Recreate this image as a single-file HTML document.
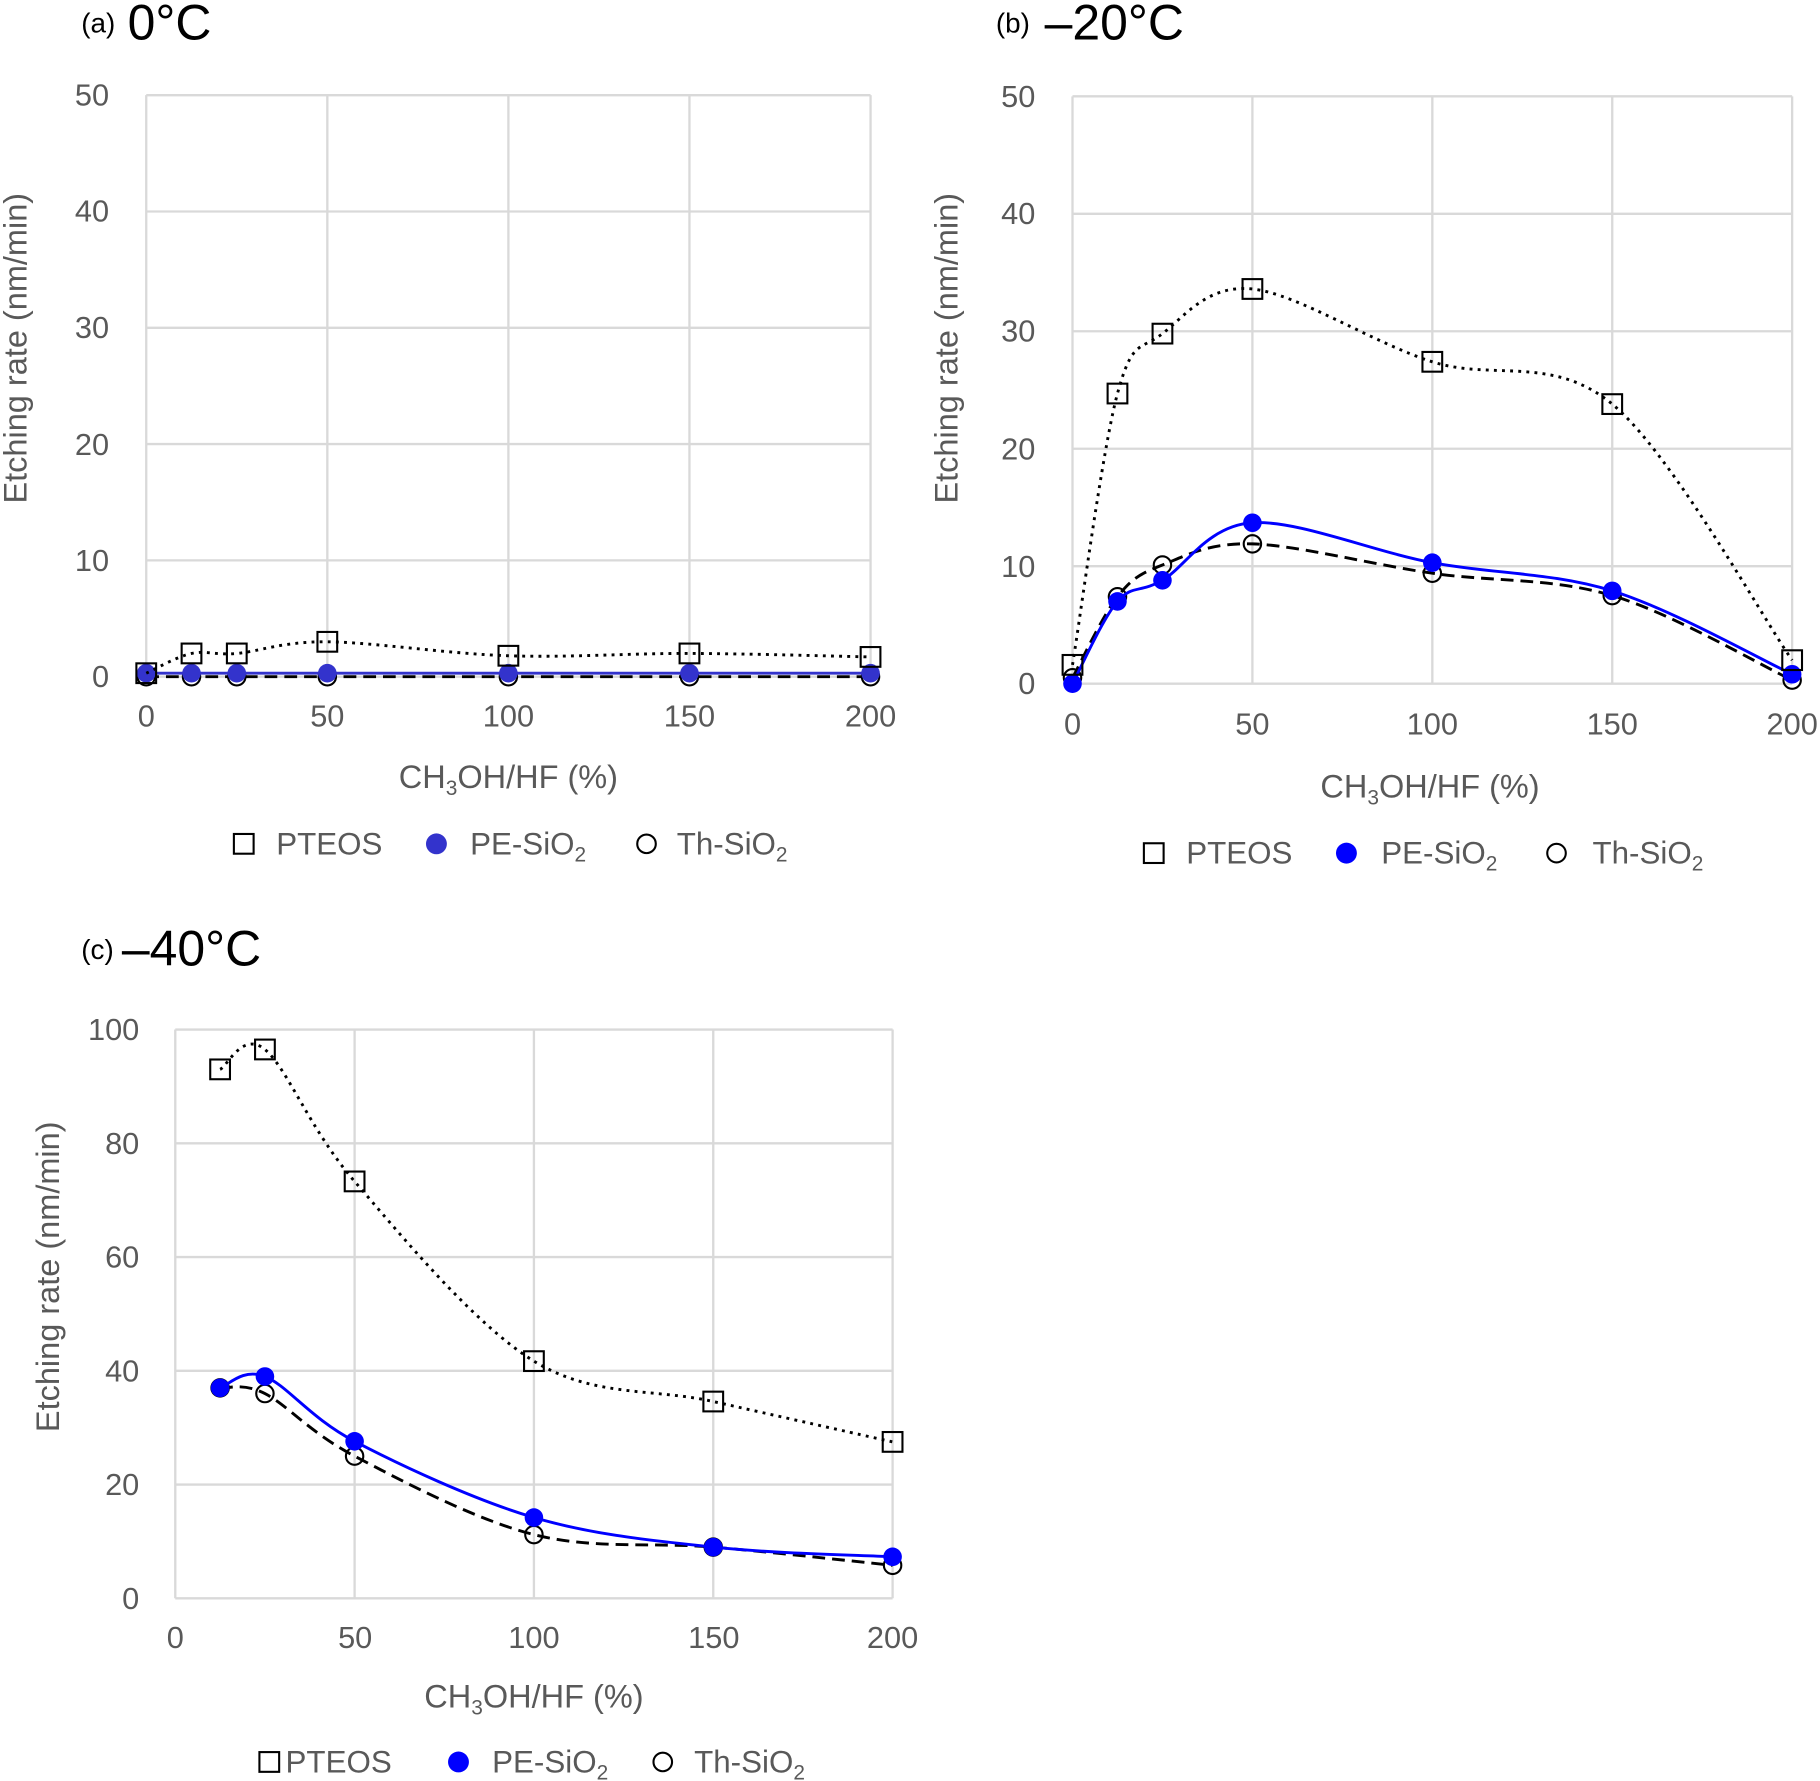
<!DOCTYPE html>
<html><head><meta charset="utf-8">
<style>
html,body{margin:0;padding:0;background:#fff;}
svg{display:block;}
text{font-family:"Liberation Sans",Arial,sans-serif;}
.tk{fill:#595959;font-size:26.5px;}
.ttl{fill:#595959;font-size:28px;}
.lg{fill:#595959;font-size:27px;}
</style></head><body>
<svg id="s" width="1820" height="1781" viewBox="0 0 1568 1534.4" preserveAspectRatio="none" xmlns="http://www.w3.org/2000/svg">
<rect width="1568" height="1535" fill="#fff"/>
<g id="grid"></g>
<g id="series"></g>
<text x="70" y="28" font-size="24" fill="#000">(a)</text>
<text x="110" y="34" font-size="43" fill="#000">0°C</text>
<g class="tk" text-anchor="end">
<text x="94" y="91">50</text><text x="94" y="191">40</text><text x="94" y="291">30</text><text x="94" y="392">20</text><text x="94" y="492">10</text><text x="94" y="592">0</text>
</g>
<g class="tk" text-anchor="middle">
<text x="126" y="626">0</text><text x="282" y="626">50</text><text x="438" y="626">100</text><text x="594" y="626">150</text><text x="750" y="626">200</text>
</g>
<text class="ttl" x="438" y="679" text-anchor="middle">CH<tspan font-size="18" dy="6">3</tspan><tspan dy="-6">OH/HF (%)</tspan></text>
<text class="ttl" transform="translate(23,300) rotate(-90)" text-anchor="middle">Etching rate (nm/min)</text>
<text class="lg" x="238" y="736">PTEOS</text>
<text class="lg" x="405" y="736" fill="#000">PE-SiO<tspan font-size="18" dy="6">2</tspan></text>
<text class="lg" x="583" y="736" fill="#000">Th-SiO<tspan font-size="18" dy="6">2</tspan></text>
<text x="858" y="28" font-size="24" fill="#000">(b)</text>
<text x="900" y="34" font-size="43" fill="#000">–20°C</text>
<g class="tk" text-anchor="end">
<text x="892" y="92">50</text><text x="892" y="193">40</text><text x="892" y="294">30</text><text x="892" y="396">20</text><text x="892" y="497">10</text><text x="892" y="598">0</text>
</g>
<g class="tk" text-anchor="middle">
<text x="924" y="633">0</text><text x="1079" y="633">50</text><text x="1234" y="633">100</text><text x="1389" y="633">150</text><text x="1544" y="633">200</text>
</g>
<text class="ttl" x="1232" y="687" text-anchor="middle">CH<tspan font-size="18" dy="6">3</tspan><tspan dy="-6">OH/HF (%)</tspan></text>
<text class="ttl" transform="translate(825,300) rotate(-90)" text-anchor="middle">Etching rate (nm/min)</text>
<text class="lg" x="1022" y="744">PTEOS</text>
<text class="lg" x="1190" y="744" fill="#000">PE-SiO<tspan font-size="18" dy="6">2</tspan></text>
<text class="lg" x="1372" y="744" fill="#000">Th-SiO<tspan font-size="18" dy="6">2</tspan></text>
<text x="70" y="826" font-size="24" fill="#000">(c)</text>
<text x="105" y="832" font-size="43" fill="#000">–40°C</text>
<g class="tk" text-anchor="end">
<text x="120" y="896">100</text><text x="120" y="994">80</text><text x="120" y="1092">60</text><text x="120" y="1190">40</text><text x="120" y="1288">20</text><text x="120" y="1386">0</text>
</g>
<g class="tk" text-anchor="middle">
<text x="151" y="1420">0</text><text x="306" y="1420">50</text><text x="460" y="1420">100</text><text x="615" y="1420">150</text><text x="769" y="1420">200</text>
</g>
<text class="ttl" x="460" y="1471" text-anchor="middle">CH<tspan font-size="18" dy="6">3</tspan><tspan dy="-6">OH/HF (%)</tspan></text>
<text class="ttl" transform="translate(51,1100) rotate(-90)" text-anchor="middle">Etching rate (nm/min)</text>
<text class="lg" x="246" y="1527">PTEOS</text>
<text class="lg" x="424" y="1527" fill="#000">PE-SiO<tspan font-size="18" dy="6">2</tspan></text>
<text class="lg" x="598" y="1527" fill="#000">Th-SiO<tspan font-size="18" dy="6">2</tspan></text>
</svg>
<script>
var NS="http://www.w3.org/2000/svg";
var G=document.getElementById('grid'),S=document.getElementById('series');
function el(p,t,a){var e=document.createElementNS(NS,t);for(var k in a)e.setAttribute(k,a[k]);p.appendChild(e);return e;}
function panel(x0,x1,y0,y1,nx,ny){
 for(var i=0;i<=nx;i++){var x=x0+(x1-x0)*i/nx;el(G,'line',{x1:x,x2:x,y1:y1,y2:y0,stroke:'#d9d9d9','stroke-width':2});}
 for(var j=0;j<=ny;j++){var y=y0+(y1-y0)*j/ny;el(G,'line',{x1:x0,x2:x1,y1:y,y2:y,stroke:'#d9d9d9','stroke-width':2});}
}
function path(pts){
 var d='M'+pts[0][0]+','+pts[0][1];
 for(var i=0;i<pts.length-1;i++){
  var p0=pts[Math.max(0,i-1)],p1=pts[i],p2=pts[i+1],p3=pts[Math.min(pts.length-1,i+2)];
  var t=6;
  d+=' C'+(p1[0]+(p2[0]-p0[0])/t)+','+(p1[1]+(p2[1]-p0[1])/t)+' '+(p2[0]-(p3[0]-p1[0])/t)+','+(p2[1]-(p3[1]-p1[1])/t)+' '+p2[0]+','+p2[1];
 }
 return d;
}
function series(P,data,type,col){
 var pts=data.map(function(v){return [P.x0+(P.x1-P.x0)*v[0]/200,P.yb-(P.yb-P.yt)*v[1]/P.ymax];});
 var st={fill:'none','stroke-width':2.5};
 if(type=='sq'){st.stroke='#000';st['stroke-dasharray']='2.5 4.5';}
 else if(type=='fc'){st.stroke=col;}
 else {st.stroke='#000';st['stroke-dasharray']='11 6';}
 st.d=path(pts);el(S,'path',st);
 pts.forEach(function(p){
  if(type=='sq')el(S,'rect',{x:p[0]-8.5,y:p[1]-8.5,width:17,height:17,fill:'none',stroke:'#000','stroke-width':1.8});
  else if(type=='fc')el(S,'circle',{cx:p[0],cy:p[1],r:8,fill:col});
  else el(S,'circle',{cx:p[0],cy:p[1],r:7.5,fill:'none',stroke:'#000','stroke-width':1.8});
 });
}
panel(126,750,82,583,4,5);
panel(924,1544,83,589,4,5);
panel(151,769,887,1377,4,5);
var A={x0:126,x1:750,yt:82,yb:583,ymax:50};
var B={x0:924,x1:1544,yt:83,yb:589,ymax:50};
var C={x0:151,x1:769,yt:887,yb:1377,ymax:100};
var xs=[0,12.5,25,50,100,150,200];
function z(a){return xs.map(function(x,i){return [x,a[i]];});}
series(A,z([0,0,0,0,0,0,0]),'oc');
series(A,z([0.3,0.3,0.3,0.3,0.3,0.3,0.3]),'fc','#3333cc');
series(A,z([0.3,2,2,3,1.8,2,1.7]),'sq');
series(B,z([0.5,7.4,10.1,11.9,9.4,7.5,0.3]),'oc');
series(B,z([0,7,8.8,13.7,10.3,7.9,0.8]),'fc','#0000ff');
series(B,z([1.6,24.7,29.8,33.6,27.4,23.8,2]),'sq');
var xc=[12.5,25,50,100,150,200];
function zc(a){return xc.map(function(x,i){return [x,a[i]];});}
series(C,zc([37,36,25,11.2,9,5.8]),'oc');
series(C,zc([37,39,27.6,14.2,9,7.3]),'fc','#0000ff');
series(C,zc([93,96.5,73.3,41.7,34.6,27.5]),'sq');
var s=document.getElementById('s');
[[210,727],[994,735],[232,1518]].forEach(function(p){el(s,'rect',{x:p[0]-8.5,y:p[1]-8.5,width:17,height:17,fill:'none',stroke:'#000','stroke-width':1.8});});
el(s,'circle',{cx:376,cy:727,r:9,fill:'#3333cc'});
el(s,'circle',{cx:1160,cy:735,r:9,fill:'#0000ff'});
el(s,'circle',{cx:395,cy:1518,r:9,fill:'#0000ff'});
[[557,727],[1341,735],[571,1518]].forEach(function(p){el(s,'circle',{cx:p[0],cy:p[1],r:8,fill:'none',stroke:'#000','stroke-width':1.8});});
</script>
</body></html>
